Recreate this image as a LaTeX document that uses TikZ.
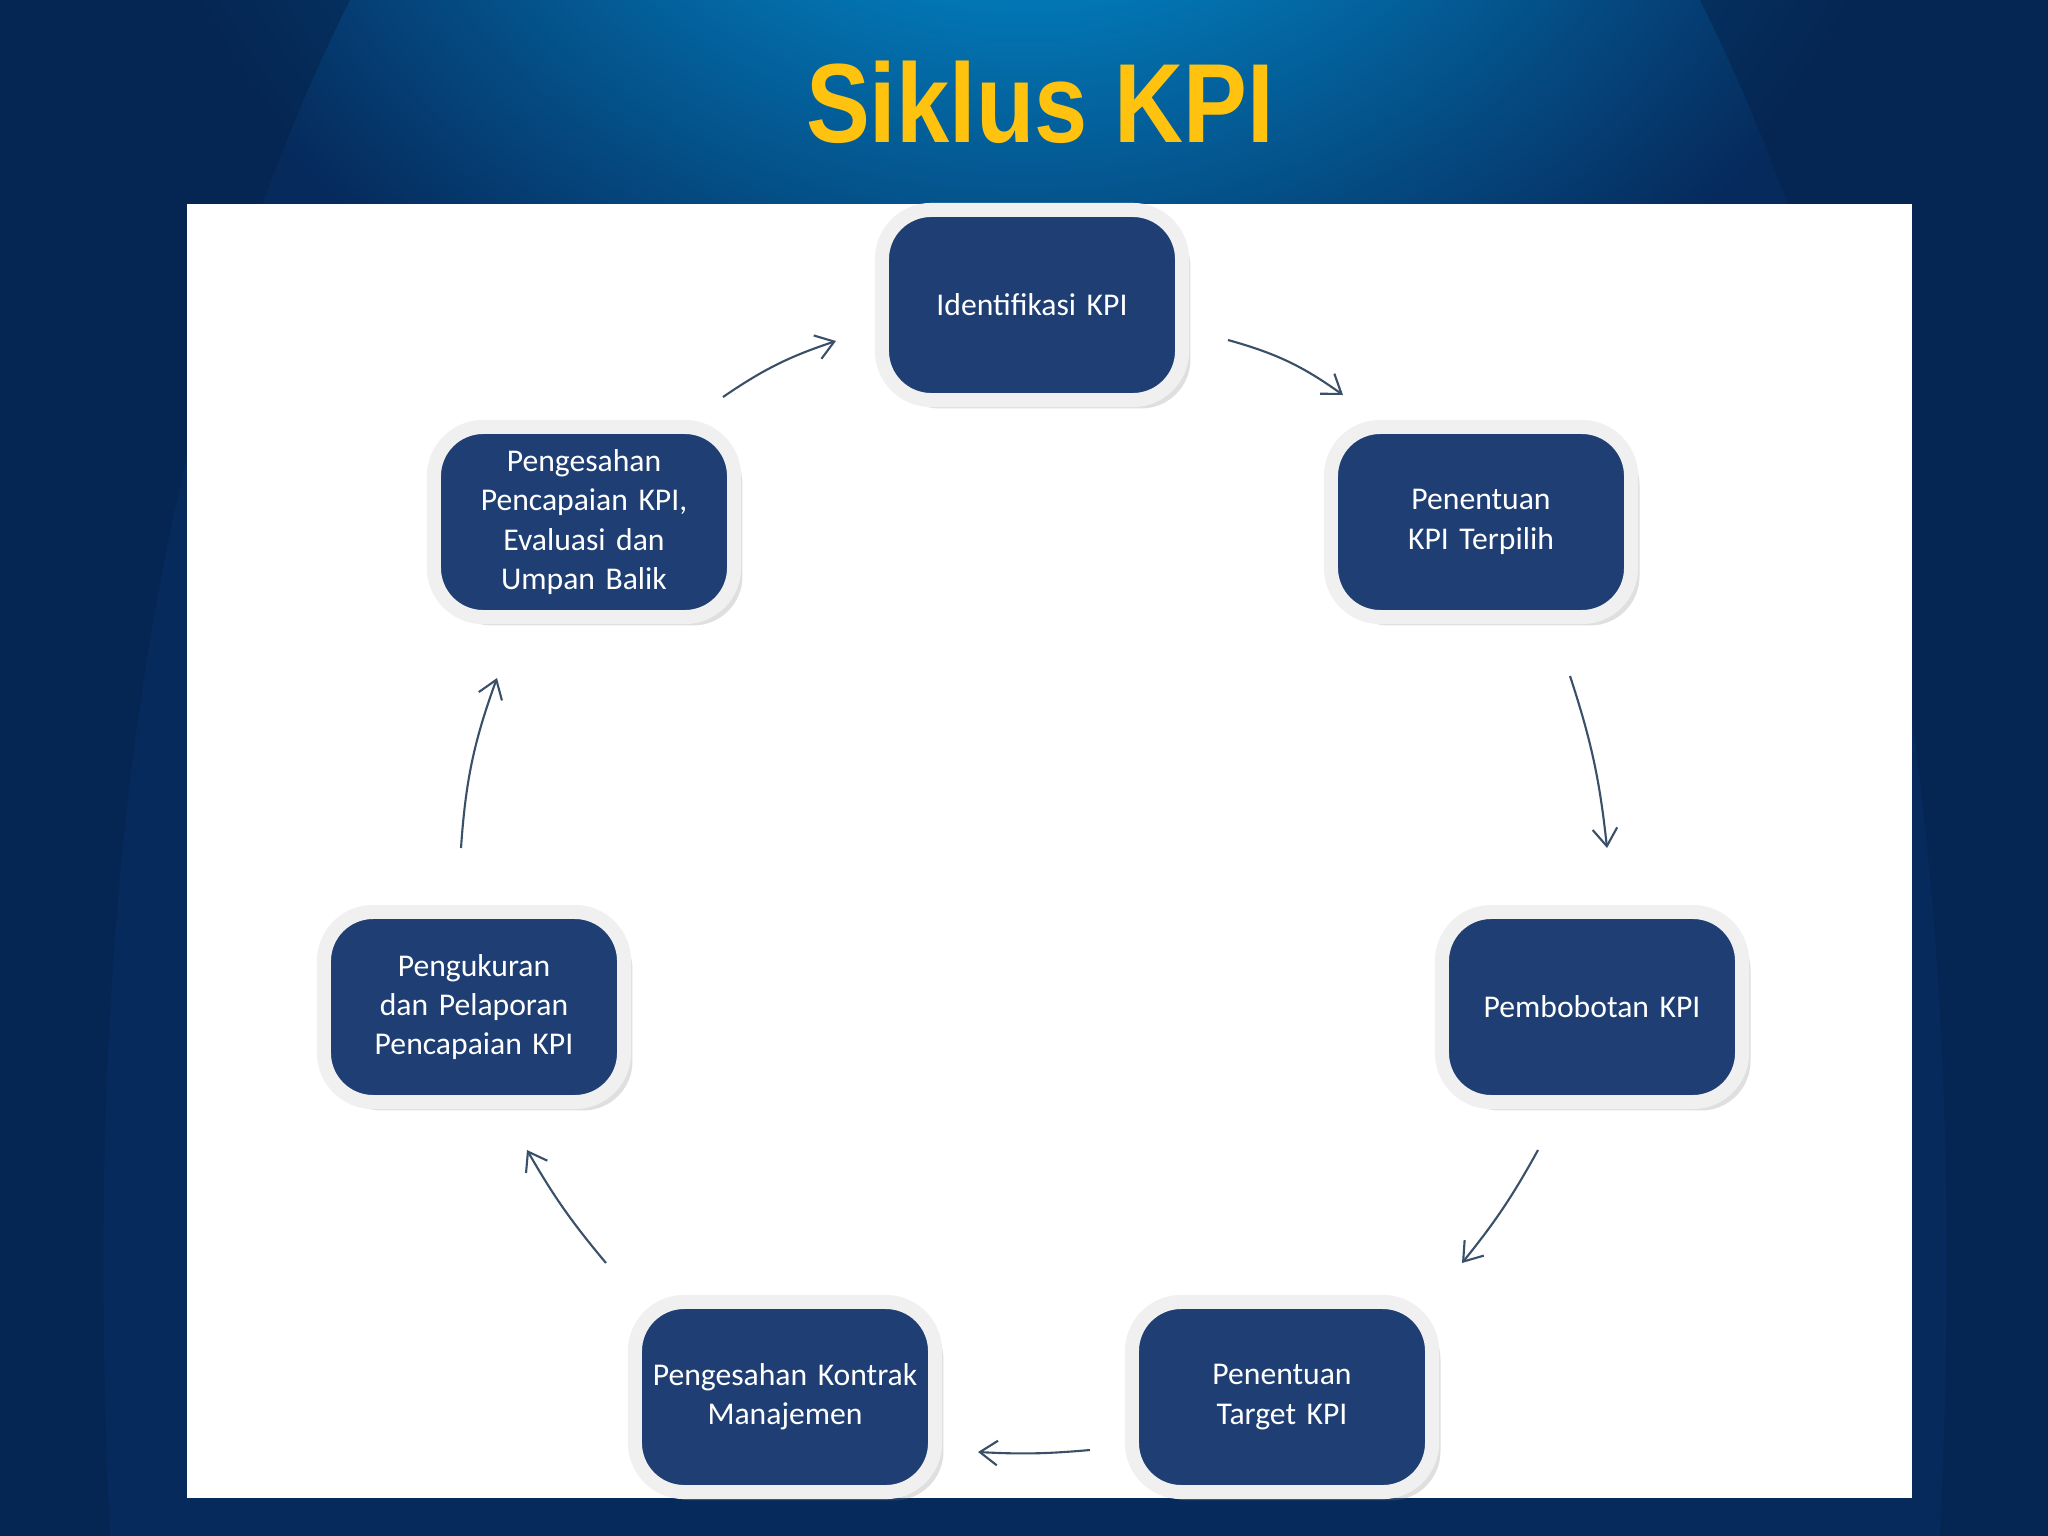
\documentclass[tikz,border=0pt]{standalone}
\usepackage{fontspec}
\setmainfont{Carlito}
\newfontfamily\titlefont{Liberation Sans}
\usetikzlibrary{arrows.meta,shadows}
\definecolor{boxblue}{HTML}{1F3F74}
\definecolor{navy}{HTML}{062A5C}
\definecolor{arr}{HTML}{3A5068}
\definecolor{ttl}{HTML}{FFC20E}
\begin{document}
\begin{tikzpicture}[x=0.01cm,y=-0.01cm,
  kbox/.style={draw=white!88!gray,line width=4pt,fill=boxblue,rounded corners=14pt,
    minimum width=3.0cm,minimum height=1.9cm,text width=2.75cm,align=center,
    text=white,font=\fontsize{9pt}{11.2pt}\selectfont,drop shadow={opacity=0.25}},
  karr/.style={draw=arr,line width=0.6pt,-{Straight Barb[length=5pt,width=7pt]}}]
\useasboundingbox (0,0) rectangle (2048,1536);
\fill[navy] (0,0) rectangle (2048,1536);
\shade[inner color=cyan!70!blue!90!black,outer color=navy] (1024,-250) ellipse (900 and 700);
\fill[navy!80!black,opacity=0.5] (0,0) -- (350,0) .. controls (150,400) and (80,900) .. (110,1536) -- (0,1536) -- cycle;
\fill[navy!80!black,opacity=0.5] (2048,0) -- (1700,0) .. controls (1900,400) and (1970,900) .. (1940,1536) -- (2048,1536) -- cycle;
\fill[white] (187,204) rectangle (1912,1498);
\node[font=\titlefont\bfseries\fontsize{32pt}{34pt}\selectfont,text=ttl,xscale=0.85] (t) at (1040,102) {Siklus KPI};
\node[kbox] (a) at (1032,305) {Identifikasi KPI};
\node[kbox] (b) at (1481,522) {Penentuan KPI Terpilih};
\node[kbox] (c) at (1592,1007) {Pembobotan KPI};
\node[kbox] (d) at (1282,1397) {Penentuan Target KPI};
\node[kbox] (e) at (785,1397) {Pengesahan Kontrak Manajemen};
\node[kbox] (f) at (474,1007) {Pengukuran dan Pelaporan Pencapaian KPI};
\node[kbox] (g) at (584,522) {Pengesahan Pencapaian KPI, Evaluasi dan Umpan Balik};
\coordinate (a1) at (1228,340); \coordinate (b1) at (1343,395);
\coordinate (b2) at (1570,676); \coordinate (c2) at (1607,848);
\coordinate (c3) at (1538,1150); \coordinate (d3) at (1462,1263);
\coordinate (d4) at (1090,1450); \coordinate (e4) at (978,1452);
\coordinate (e5) at (606,1263); \coordinate (f5) at (527,1150);
\coordinate (f6) at (461,848); \coordinate (g6) at (497,678);
\coordinate (g7) at (723,397); \coordinate (a7) at (836,341);
\draw[karr] (a1) to[bend left=10] (b1);
\draw[karr] (b2) to[bend left=6] (c2);
\draw[karr] (c3) to[bend left=5] (d3);
\draw[karr] (d4) to[bend left=4] (e4);
\draw[karr] (e5) to[bend left=5] (f5);
\draw[karr] (f6) to[bend left=8] (g6);
\draw[karr] (g7) to[bend left=8] (a7);
\end{tikzpicture}
\end{document}
